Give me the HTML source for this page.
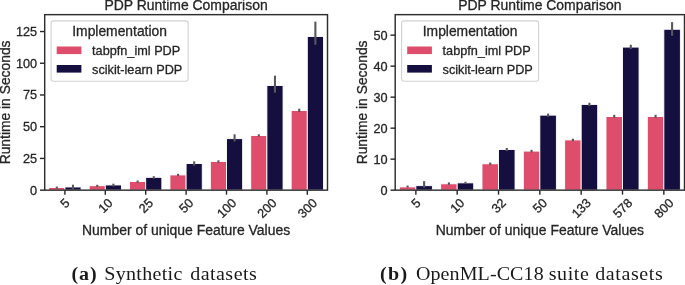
<!DOCTYPE html>
<html><head><meta charset="utf-8"><title>PDP Runtime Comparison</title>
<style>
html,body{margin:0;padding:0;background:#fff;}
body{width:685px;height:285px;overflow:hidden;position:relative;}
svg{display:block;position:absolute;left:0;top:0;}
svg text{font-family:"Liberation Sans", Arial, sans-serif;fill:#262626;stroke:#262626;stroke-width:0.3px;}
svg text.cap{font-family:"Liberation Serif", "DejaVu Serif", serif;fill:#1a1a1a;stroke:none;}
</style></head><body>
<svg width="685" height="285" viewBox="0 0 685 285">
<rect width="685" height="285" fill="#fff"/>
<g>
<rect x="48.74" y="187.49" width="16.16" height="2.66" fill="#de4d6b" stroke="#fff" stroke-width="0.9"/>
<rect x="64.90" y="186.98" width="16.16" height="3.17" fill="#150f40" stroke="#fff" stroke-width="0.9"/>
<rect x="89.14" y="185.71" width="16.16" height="4.44" fill="#de4d6b" stroke="#fff" stroke-width="0.9"/>
<rect x="105.30" y="184.95" width="16.16" height="5.20" fill="#150f40" stroke="#fff" stroke-width="0.9"/>
<rect x="129.54" y="181.52" width="16.16" height="8.63" fill="#de4d6b" stroke="#fff" stroke-width="0.9"/>
<rect x="145.70" y="177.33" width="16.16" height="12.82" fill="#150f40" stroke="#fff" stroke-width="0.9"/>
<rect x="169.94" y="174.92" width="16.16" height="15.23" fill="#de4d6b" stroke="#fff" stroke-width="0.9"/>
<rect x="186.10" y="163.50" width="16.16" height="26.65" fill="#150f40" stroke="#fff" stroke-width="0.9"/>
<rect x="210.34" y="161.47" width="16.16" height="28.68" fill="#de4d6b" stroke="#fff" stroke-width="0.9"/>
<rect x="226.50" y="138.63" width="16.16" height="51.52" fill="#150f40" stroke="#fff" stroke-width="0.9"/>
<rect x="250.74" y="135.46" width="16.16" height="54.69" fill="#de4d6b" stroke="#fff" stroke-width="0.9"/>
<rect x="266.90" y="85.46" width="16.16" height="104.69" fill="#150f40" stroke="#fff" stroke-width="0.9"/>
<rect x="291.14" y="110.46" width="16.16" height="79.69" fill="#de4d6b" stroke="#fff" stroke-width="0.9"/>
<rect x="307.30" y="36.47" width="16.16" height="153.68" fill="#150f40" stroke="#fff" stroke-width="0.9"/>
<line x1="56.82" x2="56.82" y1="186.60" y2="188.50" stroke="#58585c" stroke-width="2.1"/>
<line x1="72.98" x2="72.98" y1="184.69" y2="189.01" stroke="#58585c" stroke-width="2.1"/>
<line x1="97.22" x2="97.22" y1="184.82" y2="186.85" stroke="#58585c" stroke-width="2.1"/>
<line x1="113.38" x2="113.38" y1="183.68" y2="186.47" stroke="#58585c" stroke-width="2.1"/>
<line x1="137.62" x2="137.62" y1="180.51" y2="182.66" stroke="#58585c" stroke-width="2.1"/>
<line x1="153.78" x2="153.78" y1="176.19" y2="178.73" stroke="#58585c" stroke-width="2.1"/>
<line x1="178.02" x2="178.02" y1="173.78" y2="176.06" stroke="#58585c" stroke-width="2.1"/>
<line x1="194.18" x2="194.18" y1="161.34" y2="165.66" stroke="#58585c" stroke-width="2.1"/>
<line x1="218.42" x2="218.42" y1="160.33" y2="162.61" stroke="#58585c" stroke-width="2.1"/>
<line x1="234.58" x2="234.58" y1="134.31" y2="141.42" stroke="#58585c" stroke-width="2.1"/>
<line x1="258.82" x2="258.82" y1="134.31" y2="136.60" stroke="#58585c" stroke-width="2.1"/>
<line x1="274.98" x2="274.98" y1="75.69" y2="92.69" stroke="#58585c" stroke-width="2.1"/>
<line x1="299.22" x2="299.22" y1="108.68" y2="111.98" stroke="#58585c" stroke-width="2.1"/>
<line x1="315.38" x2="315.38" y1="21.63" y2="44.72" stroke="#58585c" stroke-width="2.1"/>
<rect x="44.7" y="14.65" width="282.8" height="175.5" fill="none" stroke="#2e2e2e" stroke-width="1.44"/>
<line x1="40.00" x2="44.7" y1="190.15" y2="190.15" stroke="#262626" stroke-width="1.4"/>
<text x="37.10" y="194.50" text-anchor="end" font-size="12.7">0</text>
<line x1="40.00" x2="44.7" y1="158.43" y2="158.43" stroke="#262626" stroke-width="1.4"/>
<text x="37.10" y="162.78" text-anchor="end" font-size="12.7">25</text>
<line x1="40.00" x2="44.7" y1="126.70" y2="126.70" stroke="#262626" stroke-width="1.4"/>
<text x="37.10" y="131.05" text-anchor="end" font-size="12.7">50</text>
<line x1="40.00" x2="44.7" y1="94.98" y2="94.98" stroke="#262626" stroke-width="1.4"/>
<text x="37.10" y="99.33" text-anchor="end" font-size="12.7">75</text>
<line x1="40.00" x2="44.7" y1="63.25" y2="63.25" stroke="#262626" stroke-width="1.4"/>
<text x="37.10" y="67.60" text-anchor="end" font-size="12.7">100</text>
<line x1="40.00" x2="44.7" y1="31.53" y2="31.53" stroke="#262626" stroke-width="1.4"/>
<text x="37.10" y="35.88" text-anchor="end" font-size="12.7">125</text>
<line x1="64.90" x2="64.90" y1="190.15" y2="194.65" stroke="#262626" stroke-width="1.4"/>
<text transform="translate(64.90,203.06) rotate(-45)" text-anchor="middle" font-size="12.7" y="4.5">5</text>
<line x1="105.30" x2="105.30" y1="190.15" y2="194.65" stroke="#262626" stroke-width="1.4"/>
<text transform="translate(105.30,205.56) rotate(-45)" text-anchor="middle" font-size="12.7" y="4.5">10</text>
<line x1="145.70" x2="145.70" y1="190.15" y2="194.65" stroke="#262626" stroke-width="1.4"/>
<text transform="translate(145.70,205.56) rotate(-45)" text-anchor="middle" font-size="12.7" y="4.5">25</text>
<line x1="186.10" x2="186.10" y1="190.15" y2="194.65" stroke="#262626" stroke-width="1.4"/>
<text transform="translate(186.10,205.56) rotate(-45)" text-anchor="middle" font-size="12.7" y="4.5">50</text>
<line x1="226.50" x2="226.50" y1="190.15" y2="194.65" stroke="#262626" stroke-width="1.4"/>
<text transform="translate(226.50,208.05) rotate(-45)" text-anchor="middle" font-size="12.7" y="4.5">100</text>
<line x1="266.90" x2="266.90" y1="190.15" y2="194.65" stroke="#262626" stroke-width="1.4"/>
<text transform="translate(266.90,208.05) rotate(-45)" text-anchor="middle" font-size="12.7" y="4.5">200</text>
<line x1="307.30" x2="307.30" y1="190.15" y2="194.65" stroke="#262626" stroke-width="1.4"/>
<text transform="translate(307.30,208.05) rotate(-45)" text-anchor="middle" font-size="12.7" y="4.5">300</text>
<text x="186.10" y="234.8" text-anchor="middle" font-size="13.95">Number of unique Feature Values</text>
<text x="186.10" y="9.5" text-anchor="middle" font-size="13.95">PDP Runtime Comparison</text>
<text transform="translate(10.30,102.40) rotate(-90)" text-anchor="middle" font-size="13.85">Runtime in Seconds</text>
<rect x="51.10" y="20.9" width="137" height="60.3" rx="2.5" ry="2.5" fill="#fff" fill-opacity="0.8" stroke="#d2d2d2" stroke-width="1.1"/>
<text x="119.60" y="36.1" text-anchor="middle" font-size="13.85">Implementation</text>
<rect x="56.70" y="46.5" width="24.7" height="7.6" fill="#de4d6b"/>
<rect x="56.70" y="65" width="24.7" height="7.6" fill="#150f40"/>
<text x="92.10" y="55.0" font-size="12.7">tabpfn_iml PDP</text>
<text x="92.10" y="73.5" font-size="12.7">scikit-learn PDP</text>
</g>
<g>
<rect x="399.33" y="186.90" width="16.53" height="3.26" fill="#de4d6b" stroke="#fff" stroke-width="0.9"/>
<rect x="415.86" y="185.66" width="16.53" height="4.50" fill="#150f40" stroke="#fff" stroke-width="0.9"/>
<rect x="440.66" y="183.80" width="16.53" height="6.35" fill="#de4d6b" stroke="#fff" stroke-width="0.9"/>
<rect x="457.19" y="182.87" width="16.53" height="7.29" fill="#150f40" stroke="#fff" stroke-width="0.9"/>
<rect x="481.99" y="163.80" width="16.53" height="26.35" fill="#de4d6b" stroke="#fff" stroke-width="0.9"/>
<rect x="498.52" y="149.54" width="16.53" height="40.61" fill="#150f40" stroke="#fff" stroke-width="0.9"/>
<rect x="523.32" y="151.09" width="16.53" height="39.06" fill="#de4d6b" stroke="#fff" stroke-width="0.9"/>
<rect x="539.85" y="115.13" width="16.53" height="75.02" fill="#150f40" stroke="#fff" stroke-width="0.9"/>
<rect x="564.65" y="139.93" width="16.53" height="50.22" fill="#de4d6b" stroke="#fff" stroke-width="0.9"/>
<rect x="581.18" y="104.44" width="16.53" height="85.72" fill="#150f40" stroke="#fff" stroke-width="0.9"/>
<rect x="605.98" y="116.53" width="16.53" height="73.62" fill="#de4d6b" stroke="#fff" stroke-width="0.9"/>
<rect x="622.51" y="47.09" width="16.53" height="143.06" fill="#150f40" stroke="#fff" stroke-width="0.9"/>
<rect x="647.30" y="116.53" width="16.53" height="73.62" fill="#de4d6b" stroke="#fff" stroke-width="0.9"/>
<rect x="663.84" y="29.26" width="16.53" height="160.89" fill="#150f40" stroke="#fff" stroke-width="0.9"/>
<line x1="407.60" x2="407.60" y1="185.50" y2="187.67" stroke="#58585c" stroke-width="2.1"/>
<line x1="424.13" x2="424.13" y1="181.16" y2="187.67" stroke="#58585c" stroke-width="2.1"/>
<line x1="448.93" x2="448.93" y1="182.40" y2="184.88" stroke="#58585c" stroke-width="2.1"/>
<line x1="465.46" x2="465.46" y1="181.78" y2="183.95" stroke="#58585c" stroke-width="2.1"/>
<line x1="490.26" x2="490.26" y1="162.56" y2="165.04" stroke="#58585c" stroke-width="2.1"/>
<line x1="506.79" x2="506.79" y1="147.99" y2="151.09" stroke="#58585c" stroke-width="2.1"/>
<line x1="531.58" x2="531.58" y1="149.85" y2="152.33" stroke="#58585c" stroke-width="2.1"/>
<line x1="548.12" x2="548.12" y1="113.58" y2="116.68" stroke="#58585c" stroke-width="2.1"/>
<line x1="572.91" x2="572.91" y1="138.69" y2="141.17" stroke="#58585c" stroke-width="2.1"/>
<line x1="589.44" x2="589.44" y1="102.73" y2="106.14" stroke="#58585c" stroke-width="2.1"/>
<line x1="614.24" x2="614.24" y1="114.82" y2="117.92" stroke="#58585c" stroke-width="2.1"/>
<line x1="630.77" x2="630.77" y1="44.76" y2="49.10" stroke="#58585c" stroke-width="2.1"/>
<line x1="655.57" x2="655.57" y1="114.82" y2="117.92" stroke="#58585c" stroke-width="2.1"/>
<line x1="672.10" x2="672.10" y1="22.13" y2="35.77" stroke="#58585c" stroke-width="2.1"/>
<rect x="395.2" y="14.65" width="289.3" height="175.5" fill="none" stroke="#2e2e2e" stroke-width="1.44"/>
<line x1="390.50" x2="395.2" y1="190.15" y2="190.15" stroke="#262626" stroke-width="1.4"/>
<text x="387.60" y="194.50" text-anchor="end" font-size="12.7">0</text>
<line x1="390.50" x2="395.2" y1="159.15" y2="159.15" stroke="#262626" stroke-width="1.4"/>
<text x="387.60" y="163.50" text-anchor="end" font-size="12.7">10</text>
<line x1="390.50" x2="395.2" y1="128.15" y2="128.15" stroke="#262626" stroke-width="1.4"/>
<text x="387.60" y="132.50" text-anchor="end" font-size="12.7">20</text>
<line x1="390.50" x2="395.2" y1="97.15" y2="97.15" stroke="#262626" stroke-width="1.4"/>
<text x="387.60" y="101.50" text-anchor="end" font-size="12.7">30</text>
<line x1="390.50" x2="395.2" y1="66.15" y2="66.15" stroke="#262626" stroke-width="1.4"/>
<text x="387.60" y="70.50" text-anchor="end" font-size="12.7">40</text>
<line x1="390.50" x2="395.2" y1="35.15" y2="35.15" stroke="#262626" stroke-width="1.4"/>
<text x="387.60" y="39.50" text-anchor="end" font-size="12.7">50</text>
<line x1="415.86" x2="415.86" y1="190.15" y2="194.65" stroke="#262626" stroke-width="1.4"/>
<text transform="translate(415.86,203.06) rotate(-45)" text-anchor="middle" font-size="12.7" y="4.5">5</text>
<line x1="457.19" x2="457.19" y1="190.15" y2="194.65" stroke="#262626" stroke-width="1.4"/>
<text transform="translate(457.19,205.56) rotate(-45)" text-anchor="middle" font-size="12.7" y="4.5">10</text>
<line x1="498.52" x2="498.52" y1="190.15" y2="194.65" stroke="#262626" stroke-width="1.4"/>
<text transform="translate(498.52,205.56) rotate(-45)" text-anchor="middle" font-size="12.7" y="4.5">32</text>
<line x1="539.85" x2="539.85" y1="190.15" y2="194.65" stroke="#262626" stroke-width="1.4"/>
<text transform="translate(539.85,205.56) rotate(-45)" text-anchor="middle" font-size="12.7" y="4.5">50</text>
<line x1="581.18" x2="581.18" y1="190.15" y2="194.65" stroke="#262626" stroke-width="1.4"/>
<text transform="translate(581.18,208.05) rotate(-45)" text-anchor="middle" font-size="12.7" y="4.5">133</text>
<line x1="622.51" x2="622.51" y1="190.15" y2="194.65" stroke="#262626" stroke-width="1.4"/>
<text transform="translate(622.51,208.05) rotate(-45)" text-anchor="middle" font-size="12.7" y="4.5">578</text>
<line x1="663.84" x2="663.84" y1="190.15" y2="194.65" stroke="#262626" stroke-width="1.4"/>
<text transform="translate(663.84,208.05) rotate(-45)" text-anchor="middle" font-size="12.7" y="4.5">800</text>
<text x="539.85" y="234.8" text-anchor="middle" font-size="13.95">Number of unique Feature Values</text>
<text x="539.85" y="9.5" text-anchor="middle" font-size="13.95">PDP Runtime Comparison</text>
<text transform="translate(367.30,102.40) rotate(-90)" text-anchor="middle" font-size="13.85">Runtime in Seconds</text>
<rect x="401.60" y="20.9" width="137" height="60.3" rx="2.5" ry="2.5" fill="#fff" fill-opacity="0.8" stroke="#d2d2d2" stroke-width="1.1"/>
<text x="470.10" y="36.1" text-anchor="middle" font-size="13.85">Implementation</text>
<rect x="407.20" y="46.5" width="24.7" height="7.6" fill="#de4d6b"/>
<rect x="407.20" y="65" width="24.7" height="7.6" fill="#150f40"/>
<text x="442.60" y="55.0" font-size="12.7">tabpfn_iml PDP</text>
<text x="442.60" y="73.5" font-size="12.7">scikit-learn PDP</text>
</g>
<text class="cap" transform="translate(71.40,280.3) scale(1.1,1)" font-size="18.2" font-weight="bold" textLength="22.91" lengthAdjust="spacing">(a)</text>
<text class="cap" transform="translate(104.30,280.3) scale(1.1,1)" font-size="18.2" textLength="70.91" lengthAdjust="spacing">Synthetic</text>
<text class="cap" transform="translate(190.20,280.3) scale(1.1,1)" font-size="18.2" textLength="60.55" lengthAdjust="spacing">datasets</text>
<text class="cap" transform="translate(379.90,280.3) scale(1.1,1)" font-size="18.2" font-weight="bold" textLength="24.82" lengthAdjust="spacing">(b)</text>
<text class="cap" transform="translate(415.90,280.3) scale(1.1,1)" font-size="18.2" textLength="116.18" lengthAdjust="spacing">OpenML-CC18</text>
<text class="cap" transform="translate(548.80,280.3) scale(1.1,1)" font-size="18.2" textLength="36.36" lengthAdjust="spacing">suite</text>
<text class="cap" transform="translate(595.30,280.3) scale(1.1,1)" font-size="18.2" textLength="61.27" lengthAdjust="spacing">datasets</text>
</svg>
</body></html>
